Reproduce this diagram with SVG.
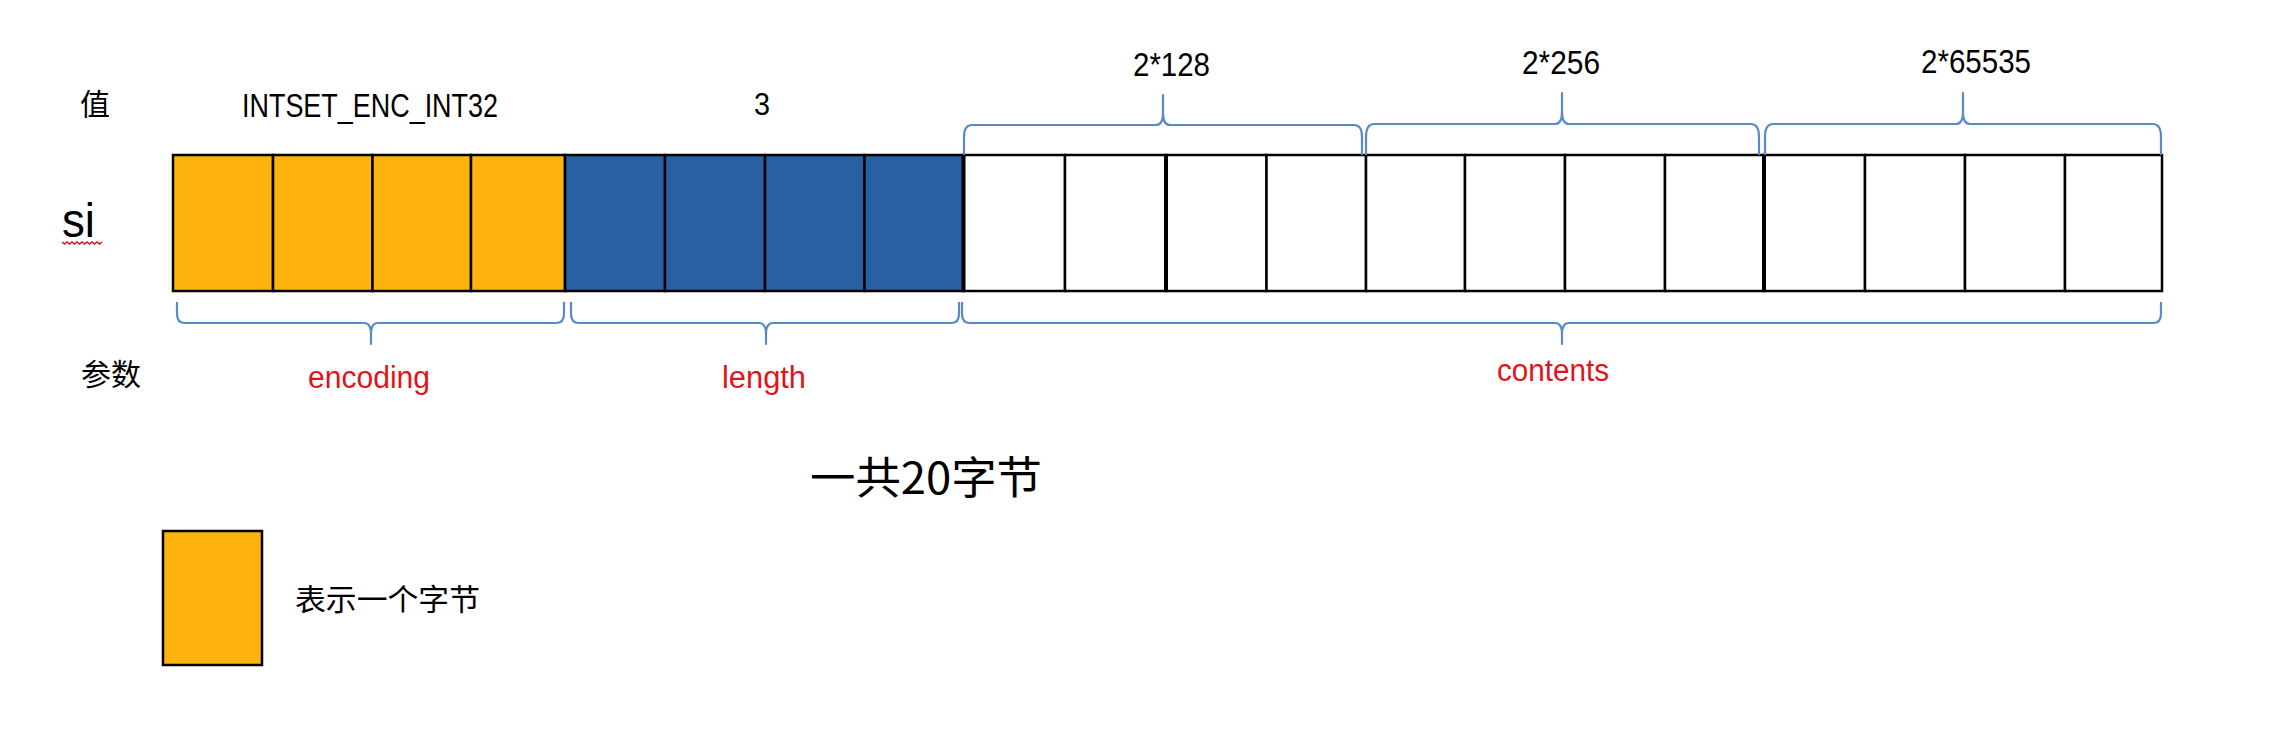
<svg xmlns="http://www.w3.org/2000/svg" width="2282" height="744" viewBox="0 0 2282 744">
<style>
.cell{stroke:#000;stroke-width:2.5}
.y{fill:#FFB30F}
.b{fill:#2860A3}
.w{fill:#FFFFFF}
.sep{stroke:#000;stroke-width:4}
.brace{fill:none;stroke:#5A8AC6;stroke-width:2.2;stroke-linejoin:round}
.lat{font-family:"Liberation Sans",Arial,sans-serif;fill:#000}
.red{font-family:"Liberation Sans",Arial,sans-serif;fill:#E1141C}
.cjk{font-family:"Noto Sans CJK SC","Liberation Sans",sans-serif;fill:#000}
</style>
<rect width="2282" height="744" fill="#FFFFFF"/>

<g id="labels-left">
<text class="cjk" x="80" y="115" font-size="30">值</text>
<text class="lat" x="62" y="237" font-size="49" textLength="33" lengthAdjust="spacingAndGlyphs">si</text>
<path d="M62,242 l2.5,2 l2.5,-2 l2.5,2 l2.5,-2 l2.5,2 l2.5,-2 l2.5,2 l2.5,-2 l2.5,2 l2.5,-2 l2.5,2 l2.5,-2 l2.5,2 l2.5,-2 l2.5,2 l2.5,-2" fill="none" stroke="#E1141C" stroke-width="1.6"/>
<text class="cjk" x="81" y="385" font-size="30">参数</text>
</g>

<g id="values">
<text class="lat" x="242" y="117" font-size="33" textLength="256" lengthAdjust="spacingAndGlyphs">INTSET_ENC_INT32</text>
<text class="lat" x="754" y="115" font-size="31" textLength="16" lengthAdjust="spacingAndGlyphs">3</text>
<text class="lat" x="1133" y="76" font-size="33" textLength="77" lengthAdjust="spacingAndGlyphs">2*128</text>
<text class="lat" x="1522" y="74" font-size="33" textLength="78" lengthAdjust="spacingAndGlyphs">2*256</text>
<text class="lat" x="1921" y="73" font-size="33" textLength="110" lengthAdjust="spacingAndGlyphs">2*65535</text>
</g>

<g id="encoding">
<rect class="cell y" x="173" y="155" width="100" height="136"/>
<rect class="cell y" x="273" y="155" width="99.5" height="136"/>
<rect class="cell y" x="372.5" y="155" width="98.5" height="136"/>
<rect class="cell y" x="471" y="155" width="94" height="136"/>
</g>

<g id="length">
<rect class="cell b" x="565" y="155" width="100" height="136"/>
<rect class="cell b" x="665" y="155" width="100" height="136"/>
<rect class="cell b" x="765" y="155" width="99.5" height="136"/>
<rect class="cell b" x="864.5" y="155" width="99" height="136"/>
</g>

<g id="contents">
<rect class="cell w" x="963.5" y="155" width="101.5" height="136"/>
<rect class="cell w" x="1065" y="155" width="101" height="136"/>
<rect class="cell w" x="1166" y="155" width="100.5" height="136"/>
<rect class="cell w" x="1266.5" y="155" width="99.5" height="136"/>
<rect class="cell w" x="1366" y="155" width="99" height="136"/>
<rect class="cell w" x="1465" y="155" width="100" height="136"/>
<rect class="cell w" x="1565" y="155" width="100" height="136"/>
<rect class="cell w" x="1665" y="155" width="99" height="136"/>
<rect class="cell w" x="1764" y="155" width="101" height="136"/>
<rect class="cell w" x="1865" y="155" width="100" height="136"/>
<rect class="cell w" x="1965" y="155" width="100" height="136"/>
<rect class="cell w" x="2065" y="155" width="97" height="136"/>
<line class="sep" x1="963.5" y1="155" x2="963.5" y2="291"/>
<line class="sep" x1="1166" y1="155" x2="1166" y2="291"/>
<line class="sep" x1="1764" y1="155" x2="1764" y2="291"/>
</g>

<g id="connectors">
<path class="brace" d="M964,155 L964,137 Q964,125 972,125 L1156,125 Q1163,125 1163,113 L1163,95 L1163,113 Q1163,125 1170,125 L1354,125 Q1362,125 1362,137 L1362,155"/>
<path class="brace" d="M1366,155 L1366,137 Q1366,124 1374,124 L1555,124 Q1562,124 1562,112 L1562,93 L1562,112 Q1562,124 1569,124 L1751,124 Q1759,124 1759,137 L1759,155"/>
<path class="brace" d="M1765,155 L1765,137 Q1765,124 1773,124 L1956,124 Q1963,124 1963,112 L1963,93 L1963,112 Q1963,124 1970,124 L2153,124 Q2161,124 2161,137 L2161,155"/>
<path class="brace" d="M177,302 L177,314 Q177,323 185,323 L364,323 Q371,323 371,334 L371,344 L371,334 Q371,323 378,323 L556,323 Q564,323 564,314 L564,302"/>
<path class="brace" d="M571,302 L571,314 Q571,323 579,323 L759,323 Q766,323 766,334 L766,344 L766,334 Q766,323 773,323 L951,323 Q959,323 959,314 L959,302"/>
<path class="brace" d="M962,302 L962,314 Q962,323 970,323 L1555,323 Q1562,323 1562,334 L1562,344 L1562,334 Q1562,323 1569,323 L2153,323 Q2161,323 2161,314 L2161,302"/>
</g>

<g id="params">
<text class="red" x="308" y="388" font-size="31" textLength="122" lengthAdjust="spacingAndGlyphs">encoding</text>
<text class="red" x="722" y="388" font-size="31" textLength="84" lengthAdjust="spacingAndGlyphs">length</text>
<text class="red" x="1497" y="381" font-size="31" textLength="112" lengthAdjust="spacingAndGlyphs">contents</text>
</g>

<g id="total">
<text class="cjk" x="810" y="494" font-size="44" textLength="232" lengthAdjust="spacingAndGlyphs">一共20字节</text>
</g>

<g id="legend">
<rect x="163" y="531" width="99" height="134" fill="#FFB30F" stroke="#000" stroke-width="2.5"/>
<text class="cjk" x="295" y="610" font-size="30" textLength="185" lengthAdjust="spacingAndGlyphs">表示一个字节</text>
</g>
</svg>
